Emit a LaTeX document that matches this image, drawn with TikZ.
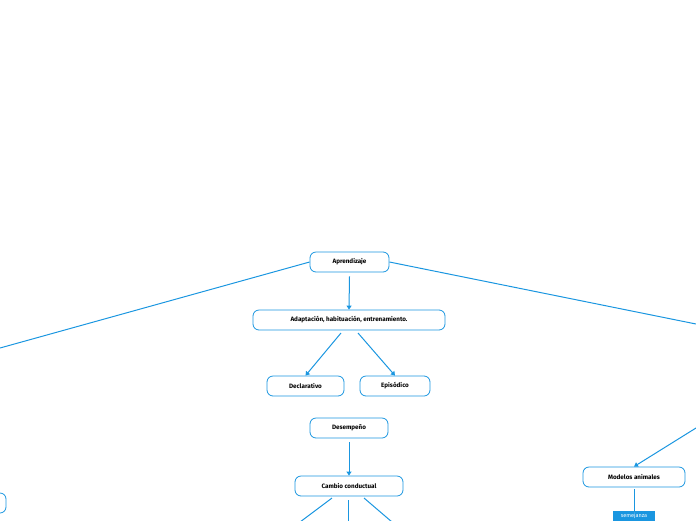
\documentclass[tikz,border=0pt]{standalone}
\usepackage{fontspec}
\setmainfont{Fira Sans}
\usetikzlibrary{arrows.meta}
\definecolor{cb}{HTML}{1A96E0}
\tikzset{
  box/.style={draw=cb, line width=0.8pt, rounded corners=6pt, fill=white, minimum height=20pt, font=\fontsize{6.3}{7}\selectfont\bfseries, inner xsep=0pt},
  con/.style={draw=cb, line width=1pt},
  arr/.style={con, -{Triangle[width=5pt,length=4pt]}},
  tag/.style={fill=cb, text=white, font=\fontsize{5.5}{6}\selectfont, inner sep=1.5pt, minimum width=42pt, minimum height=10pt}
}
\begin{document}
\begin{tikzpicture}[x=1pt,y=-1pt]
\useasboundingbox (0,0) rectangle (696,520);
\clip (0,0) rectangle (696,520);
\node[box, minimum width=79pt] (apr) at (349.5,262) {Aprendizaje};
\node[box, minimum width=192pt] (ada) at (349,320) {Adaptación, habituación, entrenamiento.};
\node[box, minimum width=77pt] (dec) at (305.5,386) {Declarativo};
\node[box, minimum width=70pt] (epi) at (395,386) {Episódico};
\node[box, minimum width=78pt] (des) at (349,428) {Desempeño};
\node[box, minimum width=108pt] (cam) at (349,486) {Cambio conductual};
\node[box, minimum width=102pt] (mod) at (634,477) {Modelos animales};
\node[box, minimum width=40pt] (lft) at (-14,503) {};
\node[tag, anchor=north] (sem) at (634,511) {semejanza};
\coordinate (L) at (0,348);
\coordinate (R) at (696,324);
\coordinate (R2) at (696,428);
\coordinate (c1) at (300,522);
\coordinate (c2) at (348,522);
\coordinate (c3) at (392,522);
\draw[con] (apr.west) -- (L);
\draw[con] (apr.east) -- (R);
\draw[arr] (apr.south) ++(0,4) -- (ada.north);
\draw[arr] (341,333) -- (dec.north);
\draw[arr] (358,333) -- (epi.north);
\draw[arr] (des.south) ++(0,4) -- (cam.north);
\draw[arr] (R2) -- (mod.north);
\draw[con] (mod.south) ++(0,2) -- (sem.north);
\draw[con] (332,498) -- (c1);
\draw[con] (348,500) -- (c2);
\draw[con] (364,498) -- (c3);
\end{tikzpicture}
\end{document}
